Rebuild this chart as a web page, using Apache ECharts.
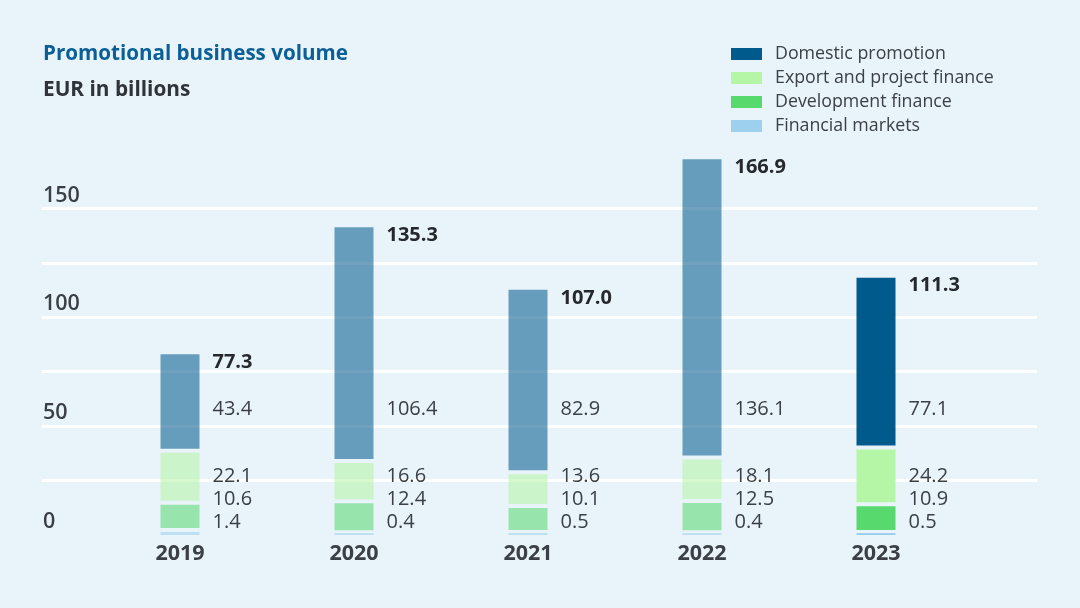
<!DOCTYPE html>
<html>
<head>
    <meta charset="utf-8">
    <title>Promotional business volume</title>
    <style>
        html, body { margin: 0; padding: 0; background: #e9f3fa; }
        #chart { width: 1080px; height: 608px; }
    </style>
</head>
<body>
    <div id="chart"></div>

    <script src="https://cdn.jsdelivr.net/npm/echarts@6/dist/echarts.min.js"></script>
    <script>
        // data (EUR in billions)
        const years = ['2019', '2020', '2021', '2022', '2023'];
        const domestic = [43.4, 106.4, 82.9, 136.1, 77.1];
        const exportFinance = [22.1, 16.6, 13.6, 18.1, 24.2];
        const development = [10.6, 12.4, 10.1, 12.5, 10.9];
        const financialMarkets = [1.4, 0.4, 0.5, 0.4, 0.5];
        const totals = [77.3, 135.3, 107.0, 166.9, 111.3];
        const yLabels = [0, 50, 100, 150];
        const highlightYear = '2023';

        // stacking order, bottom to top
        const layers = [financialMarkets, development, exportFinance, domestic];
        const layerNames = ['Financial markets', 'Development finance', 'Export and project finance', 'Domestic promotion'];
        const layerColors = ['#9dd0ee', '#58d96e', '#b4f5a6', '#005a8c'];

        const FONT = 'Open Sans';
        const TEXT = '#3b4046';
        const GAP = 4, BAR_W = 39;

        const chart = echarts.init(document.getElementById('chart'));

        function fmt(v) { return v.toFixed(1); }

        // every segment drawn from its stacked start/end through the axis scale
        function renderLayer(k) {
            return function (params, api) {
                const i = api.value(0);
                let start = 0;
                for (let j = 0; j < k; j++) start += layers[j][i];
                const end = start + layers[k][i];
                const base = api.coord([i, 0]);
                const p0 = api.coord([i, start]);
                const p1 = api.coord([i, end]);
                const bottom = p0[1] - k * GAP;
                let top = p1[1] - k * GAP;
                if (bottom - top < 2) top = bottom - 2;
                const x = p0[0] - BAR_W / 2;
                const faded = years[i] !== highlightYear;
                const labelX = x + BAR_W + 13;
                const children = [{
                    type: 'rect',
                    shape: { x: x, y: top, width: BAR_W, height: bottom - top },
                    style: { fill: layerColors[k], opacity: faded ? 0.56 : 1 }
                }];
                const txt = { fontFamily: FONT, fontSize: 20, fill: TEXT, align: 'left', verticalAlign: 'middle' };
                if (k === 3) {
                    // value labels sit on one common row, totals on top of the bar
                    children.push({
                        type: 'text',
                        style: Object.assign({}, txt, { text: fmt(layers[k][i]), x: labelX, y: base[1] - 126 })
                    });
                    children.push({
                        type: 'text',
                        style: Object.assign({}, txt, {
                            text: fmt(totals[i]), x: labelX, y: top - 2,
                            verticalAlign: 'top', fontWeight: 'bold', fill: '#25292d'
                        })
                    });
                } else {
                    // small values listed upward from the baseline
                    children.push({
                        type: 'text',
                        style: Object.assign({}, txt, { text: fmt(layers[k][i]), x: labelX, y: base[1] - 13 - 23 * k })
                    });
                }
                return { type: 'group', children: children };
            };
        }

        const series = layers.map(function (arr, k) {
            return {
                name: layerNames[k],
                type: 'custom',
                xAxisIndex: 1,
                yAxisIndex: 1,
                itemStyle: { color: layerColors[k] },
                encode: { x: 0, y: 1 },
                renderItem: renderLayer(k),
                data: arr.map(function (v, i) { return [i, v]; })
            };
        });

        const option = {
            backgroundColor: '#e9f3fa',
            animation: false,
            title: [{
                text: 'Promotional business volume',
                left: 38, top: 39,
                textStyle: { fontFamily: FONT, fontSize: 20.6, fontWeight: 'bold', color: '#0a5f96' }
            }, {
                text: 'EUR in billions',
                left: 38, top: 75,
                textStyle: { fontFamily: FONT, fontSize: 20.8, fontWeight: 'bold', color: '#2f3438' }
            }],
            legend: {
                data: ['Domestic promotion', 'Export and project finance', 'Development finance', 'Financial markets'],
                orient: 'vertical',
                left: 726, top: 40,
                icon: 'rect',
                itemWidth: 31, itemHeight: 12, itemGap: 6,
                selectedMode: false,
                textStyle: { fontFamily: FONT, fontSize: 17.8, lineHeight: 18, color: TEXT, padding: [0, 0, 0, 8] }
            },
            grid: [
                { left: 42, right: 43, top: 154, bottom: 73 },
                { left: 93, right: 117, top: 154, bottom: 73 }
            ],
            xAxis: [
                { gridIndex: 0, type: 'value', show: false, min: 0, max: 1 },
                {
                    gridIndex: 1, type: 'category', data: years,
                    axisLine: { show: false }, axisTick: { show: false },
                    axisLabel: { margin: 8, fontFamily: FONT, fontSize: 21.5, fontWeight: 'bold', color: TEXT }
                }
            ],
            yAxis: [
                {
                    gridIndex: 0, type: 'value', min: 0, max: 175, interval: 25,
                    axisLine: { show: false }, axisTick: { show: false },
                    splitLine: { show: true, showMinLine: false, showMaxLine: false, lineStyle: { color: '#ffffff', width: 3 } },
                    axisLabel: {
                        inside: true, margin: 1, align: 'left', verticalAlign: 'bottom', padding: [0, 0, 2, 0],
                        fontFamily: FONT, fontSize: 21.5, fontWeight: 600, color: TEXT,
                        formatter: function (v) { return yLabels.indexOf(v) >= 0 ? String(v) : ''; }
                    }
                },
                { gridIndex: 1, type: 'value', min: 0, max: 175, show: false, splitLine: { show: false } }
            ],
            series: series
        };

        chart.setOption(option);
    </script>
</body>
</html>
